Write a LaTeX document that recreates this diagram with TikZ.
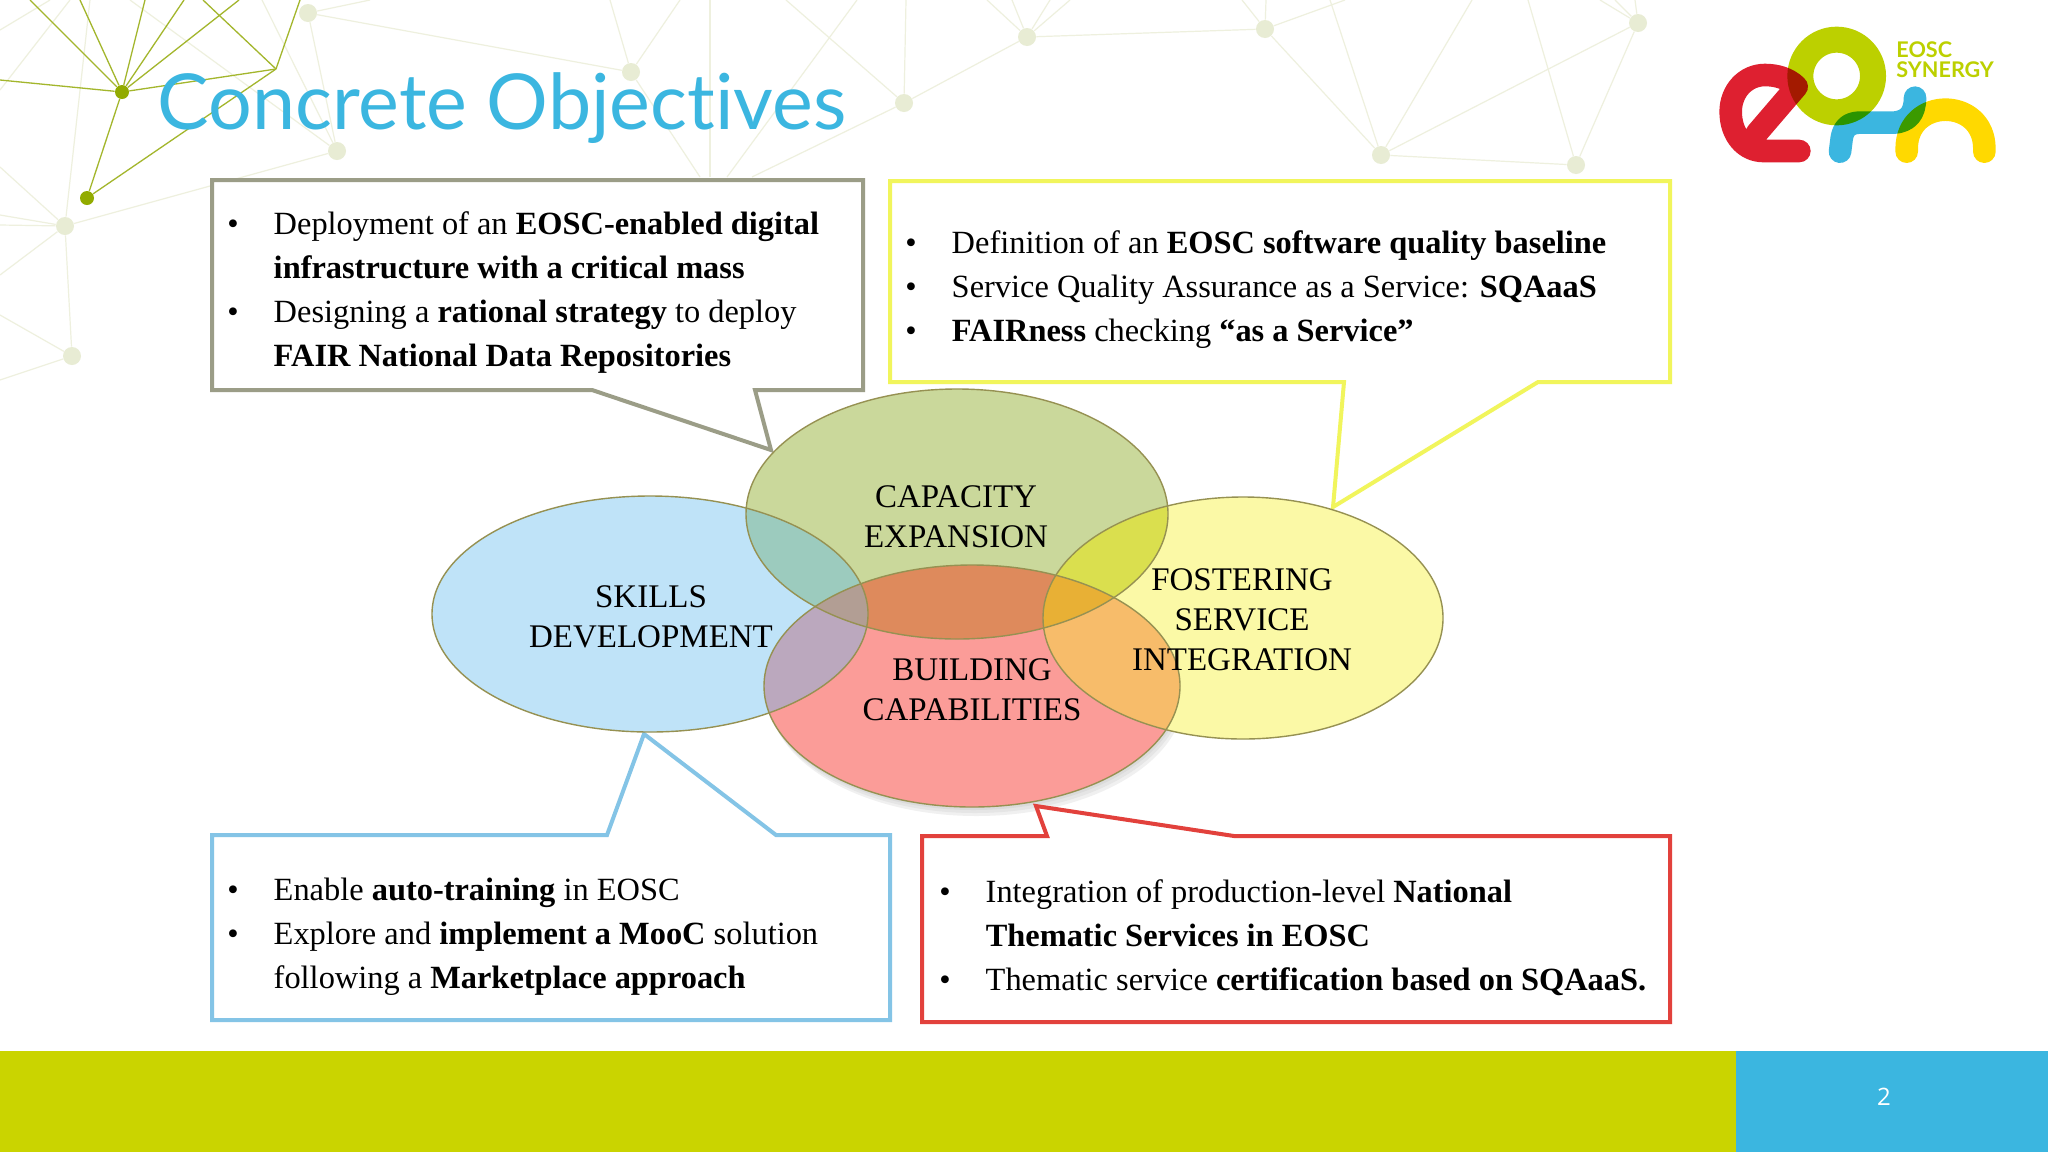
\documentclass[tikz,border=0pt]{standalone}
\usepackage{fontspec}
\setmainfont{Liberation Serif}
\newfontfamily\titlefont{Lato}[Ligatures=NoCommon]
\newfontfamily\logofont{Lato}[UprightFont={* Bold}]
\newfontfamily\pagefont{Open Sans}
\usetikzlibrary{positioning}

\definecolor{slidegreen}{HTML}{CAD400}
\definecolor{slideblue}{HTML}{3BB6E0}
\definecolor{netlight}{HTML}{EEF0DE}
\definecolor{netdot}{HTML}{E8ECD4}
\definecolor{netgreen}{HTML}{A3B62C}
\definecolor{netgreendot}{HTML}{92AB00}
\definecolor{boxgray}{HTML}{9B9D87}
\definecolor{boxyellow}{HTML}{F1F55C}
\definecolor{boxblue}{HTML}{84C4E6}
\definecolor{boxred}{HTML}{E2413C}
\definecolor{logolime}{HTML}{BCD000}
\definecolor{logored}{HTML}{DE2030}
\definecolor{logoyellow}{HTML}{FFD900}

% the four sets of the diagram
\newcommand{\skillsset}{(650,614) ellipse [x radius=218,y radius=118]}
\newcommand{\capacityset}{(957,514) ellipse [x radius=211,y radius=125]}
\newcommand{\fosterset}{(1243,618) ellipse [x radius=200,y radius=121]}
\newcommand{\buildset}{(972,686) ellipse [x radius=208,y radius=121]}

\begin{document}
\begin{tikzpicture}
        [x=0.5pt,y=-0.5pt,
        netline/.style={netlight, line width=0.6pt},
        greenline/.style={netgreen, line width=0.65pt},
        netnode/.style={circle, fill=netdot, inner sep=0pt, minimum size=9pt},
        greennode/.style={circle, fill=netgreendot, inner sep=0pt, minimum size=7pt},
        objbox/.style={fill=white, line width=2pt, line join=miter},
        objtext/.style={anchor=north west, inner sep=0pt, font=\fontsize{16.2}{22}\selectfont},
        setlabel/.style={align=center, inner sep=0pt, font=\fontsize{16.5}{20}\selectfont},
        setedge/.style={draw=black!35!olive!70!white, line width=0.7pt},
        logostroke/.style={line width=11.3pt, line cap=round, line join=round}]

        \useasboundingbox (0,0) rectangle (2048,1152);
        \fill[white] (0,0) rectangle (2048,1152);

        % background network
        \node[netnode] (na) at (308,13) {};
        \node[netnode] (nb) at (337,151) {};
        \node[netnode] (nc) at (65,226) {};
        \node[netnode] (nd) at (72,356) {};
        \node[netnode] (ne) at (631,72) {};
        \node[netnode] (nf) at (904,103) {};
        \node[netnode] (ng) at (1027,37) {};
        \node[netnode] (nh) at (1265,29) {};
        \node[netnode] (ni) at (1381,155) {};
        \node[netnode] (nj) at (1576,165) {};
        \node[netnode] (nk) at (1638,23) {};

        \draw[netline] (na) -- (ne);
        \draw[netline] (na) -- (nb);
        \draw[netline] (nc) -- (nd);
        \draw[netline] (nc) -- (nb);
        \draw[netline] (nf) -- (ng);
        \draw[netline] (ng) -- (nh);
        \draw[netline] (nh) -- (ni);
        \draw[netline] (ni) -- (nj);
        \draw[netline] (ni) -- (nk);
        \draw[netline] (nj) -- (nk);
        \foreach \tx/\ty in {262/0,130/0} \draw[netline] (nb) -- (\tx,\ty);
        \draw[netline] (na) -- (370,0);
        \foreach \tx/\ty in {0/215,0/225,0/167,0/275,90/0} \draw[netline] (nc) -- (\tx,\ty);
        \foreach \tx/\ty in {0/315,0/380} \draw[netline] (nd) -- (\tx,\ty);
        \foreach \tx/\ty in {610/0,680/0,700/177} \draw[netline] (ne) -- (\tx,\ty);
        \foreach \tx/\ty in {906/0,786/0,752/177} \draw[netline] (nf) -- (\tx,\ty);
        \foreach \tx in {987,1012,1050,1070} \draw[netline] (ng) -- (\tx,0);
        \foreach \tx in {1242,1266,1345} \draw[netline] (nh) -- (\tx,0);
        \foreach \tx in {1330,1472} \draw[netline] (ni) -- (\tx,0);
        \draw[netline] (nj) -- (1528,0);
        \foreach \tx in {1600,1615,1635} \draw[netline] (nk) -- (\tx,0);
        \draw[netline] (727,177) -- (857,0);
        \draw[netline] (710,177) -- (710,0);
        \draw[netline] (0,90) -- (70,0);
        \draw[netline] (0,30) -- (50,0);

        % green network
        \node[greennode] (ga) at (122,92) {};
        \node[greennode] (gb) at (87,198) {};
        \coordinate (gc) at (276,69);
        \draw[greenline] (ga) -- (gb);
        \draw[greenline] (gb) -- (gc);
        \draw[greenline] (ga) -- (gc);
        \draw[greenline] (ga) -- (0,80);
        \foreach \tx in {30,80,145,184,239} \draw[greenline] (ga) -- (\tx,0);
        \foreach \tx in {203,300} \draw[greenline] (gc) -- (\tx,0);

        % title
        \node[anchor=base west, inner sep=0pt, text=slideblue, font=\titlefont\fontsize{38.6}{42}\selectfont] (title) at (157,129) {Concrete Objectives};

        % logo
        \begin{scope}[shift={(1700,10)},x=0.16667pt,y=-0.16667pt]
            \draw[logolime, line width=13pt] (410,198) circle [radius=109];
            \begin{scope}[blend mode=multiply]
            \draw[logostroke, draw=logoyellow] (620,425) -- (620,416) .. controls (620,260) and (853,260) .. (853,416) -- (853,425);
            \draw[logostroke, draw=slideblue] (420,425) -- (425,385) .. controls (430,355) and (445,340) .. (475,338) -- (580,338) .. controls (625,335) and (645,310) .. (645,263);
            \draw[logostroke, draw=logored] (290,230) -- (170,370) (290,230) .. controls (265,205) and (230,195) .. (195,195) .. controls (135,195) and (92,245) .. (92,305) .. controls (92,375) and (135,423) .. (190,423) -- (298,423);
            \end{scope}
        \end{scope}
        \node[anchor=north west, inner sep=0pt, align=left, text=logolime, font=\logofont\fontsize{10.8}{10}\selectfont] (logotext) at (1896,41) {EOSC\\SYNERGY};

        % soft shadow under the lower set
        \foreach \off/\shade in {9/6,6/10,3/14}
            \fill[black!\shade, shift={(0.5*\off,\off)}] \buildset;

        % callouts
        \draw[objbox, draw=boxgray] (212,180) -- (863,180) -- (863,390) -- (755,390) -- (771,450) -- (592,390) -- (212,390) -- cycle;
        \draw[objbox, draw=boxyellow] (890,181) -- (1670,181) -- (1670,382) -- (1538,382) -- (1333,507) -- (1344,382) -- (890,382) -- cycle;
        \draw[objbox, draw=boxblue] (212,835) -- (607,835) -- (644,734) -- (776,835) -- (890,835) -- (890,1020) -- (212,1020) -- cycle;
        \draw[objbox, draw=boxred] (922,836) -- (1047,836) -- (1036,806) -- (1234,836) -- (1670,836) -- (1670,1022) -- (922,1022) -- cycle;

        \node[objtext] (grayobj) at (227,203) {\begin{tabular}{@{}l@{\hspace{17.5pt}}l@{}}
            \textbullet & Deployment of an \textbf{EOSC-enabled digital}\\
            & \textbf{infrastructure with a critical mass}\\
            \textbullet & Designing a \textbf{rational strategy} to deploy\\
            & \textbf{FAIR National Data Repositories}
        \end{tabular}};
        \node[objtext] (yellowobj) at (905,222) {\begin{tabular}{@{}l@{\hspace{17.5pt}}l@{}}
            \textbullet & Definition of an \textbf{EOSC software quality baseline}\\
            \textbullet & Service Quality Assurance as a Service: \textbf{SQAaaS}\\
            \textbullet & \textbf{FAIRness} checking \textbf{``as a Service''}
        \end{tabular}};
        \node[objtext] (blueobj) at (227,869) {\begin{tabular}{@{}l@{\hspace{17.5pt}}l@{}}
            \textbullet & Enable \textbf{auto-training} in EOSC\\
            \textbullet & Explore and \textbf{implement a MooC} solution\\
            & following a \textbf{Marketplace approach}
        \end{tabular}};
        \node[objtext] (redobj) at (939,871) {\begin{tabular}{@{}l@{\hspace{17.5pt}}l@{}}
            \textbullet & Integration of production-level \textbf{National}\\
            & \textbf{Thematic Services in EOSC}\\
            \textbullet & Thematic service \textbf{certification based on SQAaaS.}
        \end{tabular}};

        % sets
        \fill[fill={rgb,255:red,191;green,227;blue,248}] \skillsset;
        \fill[fill={rgb,255:red,202;green,216;blue,155}] \capacityset;
        \fill[fill={rgb,255:red,251;green,249;blue,166}] \fosterset;
        \fill[fill={rgb,255:red,251;green,156;blue,152}] \buildset;

        % overlaps
        \begin{scope} \clip \skillsset; \fill[fill={rgb,255:red,156;green,203;blue,190}] \capacityset; \end{scope}
        \begin{scope} \clip \skillsset; \fill[fill={rgb,255:red,187;green,168;blue,190}] \buildset; \end{scope}
        \begin{scope} \clip \capacityset; \fill[fill={rgb,255:red,218;green,223;blue,78}] \fosterset; \end{scope}
        \begin{scope} \clip \capacityset; \fill[fill={rgb,255:red,222;green,138;blue,92}] \buildset; \end{scope}
        \begin{scope} \clip \fosterset; \fill[fill={rgb,255:red,247;green,188;blue,106}] \buildset; \end{scope}
        \begin{scope} \clip \skillsset; \clip \capacityset; \fill[fill={rgb,255:red,178;green,158;blue,148}] \buildset; \end{scope}
        \begin{scope} \clip \fosterset; \clip \capacityset; \fill[fill={rgb,255:red,232;green,176;blue,53}] \buildset; \end{scope}

        \draw[setedge] \skillsset;
        \draw[setedge] \capacityset;
        \draw[setedge] \fosterset;
        \draw[setedge] \buildset;

        \node[setlabel] (capacity) at (956,517) {CAPACITY\\EXPANSION};
        \node[setlabel] (skills) at (651,617) {SKILLS\\DEVELOPMENT};
        \node[setlabel] (fostering) at (1242,620) {FOSTERING\\SERVICE\\INTEGRATION};
        \node[setlabel] (building) at (972,690) {BUILDING\\CAPABILITIES};

        % footer
        \fill[slidegreen] (0,1051) rectangle (1736,1152);
        \fill[slideblue] (1736,1051) rectangle (2048,1152);
        \node[text=white, inner sep=0pt, font=\pagefont\fontsize{12}{14}\selectfont] (pagenum) at (1884,1097) {2};

    \end{tikzpicture}
\end{document}
